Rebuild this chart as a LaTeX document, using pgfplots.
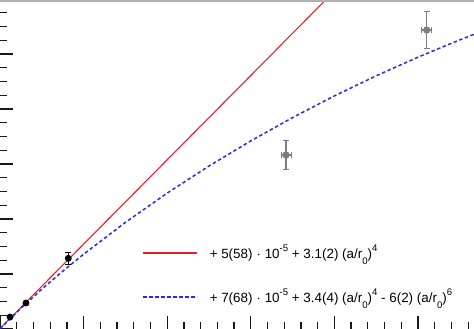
\documentclass[border=0pt]{standalone}
\usepackage{pgfplots}
\pgfplotsset{compat=1.18}
\usepackage{fontspec}
\setmainfont{Liberation Sans}
\definecolor{rootred}{RGB}{235,30,40}
\definecolor{rootblue}{RGB}{40,40,230}
\definecolor{ptgray}{RGB}{125,125,125}
\newcommand{\rsub}[1]{\raisebox{-0.85ex}{\fontsize{4.8}{5}\selectfont #1}}
\newcommand{\rsup}[1]{\raisebox{1.05ex}{\fontsize{4.8}{5}\selectfont #1}}
\begin{document}
\begin{tikzpicture}
\begin{axis}[
  scale only axis,
  width=237pt, height=164.5pt,
  xmin=0, xmax=0.0567,
  ymin=0, ymax=0.11964,
  xtick distance=0.01, ytick distance=0.02,
  minor x tick num=4, minor y tick num=3,
  xticklabels={}, yticklabels={},
  xtick pos=left, ytick pos=left,
  tick align=inside,
  major tick length=6.5pt, minor tick length=3.3pt,
  tick style={black!90, line width=0.65pt},
  axis line style={draw=none},
  scaled ticks=false,
  clip=true,
  legend cell align=left,
  legend style={draw=none, fill=none, at={(rel axis cs:0.3,0.258)}, anchor=north west,
    inner sep=0pt, row sep=13.5pt,
    nodes={inner sep=0pt, font=\fontsize{6.7}{8}\selectfont}},
]
\addlegendimage{legend image code/.code={\draw[rootred, line width=0.6pt] (0pt,0pt) -- (27pt,0pt); \path (33pt,0pt);}}
\addlegendentry{+ 5(58) $\cdot$ 10\rsup{-5} + 3.1(2) (a/r\rsub{0})\rsup{4}}
\addlegendimage{legend image code/.code={\draw[rootblue, line width=0.75pt, dash pattern=on 1.7pt off 1.3pt] (0pt,0pt) -- (27pt,0pt); \path (33pt,0pt);}}
\addlegendentry{+ 7(68) $\cdot$ 10\rsup{-5} + 3.4(4) (a/r\rsub{0})\rsup{4} - 6(2) (a/r\rsub{0})\rsup{6}}
% red linear fit
\addplot[rootred, line width=0.55pt, forget plot] coordinates {(0,0.0002) (0.0390,0.1198) (0.0420,0.1290)};
% blue fit
\addplot[rootblue, line width=0.75pt, dash pattern=on 1.7pt off 1.3pt, forget plot] coordinates {
(0,0.00007) (0.0025,0.00755) (0.005,0.01448) (0.0075,0.02100) (0.01,0.02720)
(0.015,0.03877) (0.02,0.04942) (0.025,0.05927) (0.03,0.06840) (0.035,0.07688)
(0.04,0.08476) (0.045,0.09207) (0.05,0.09886) (0.055,0.10513) (0.0567,0.10716)};
% black points
\addplot[only marks, mark=*, mark size=1.5pt, black, forget plot,
  error bars/.cd, y dir=both, y explicit, error bar style={line width=0.6pt}, error mark options={rotate=90, mark size=1.5pt}]
  coordinates {(0.0012,0.00436) +- (0,0) (0.00311,0.00945) +- (0,0) (0.00817,0.0257) +- (0,0.0022)};
% gray points
\addplot[only marks, mark=*, mark size=1.6pt, ptgray, forget plot,
  error bars/.cd, y dir=both, y explicit, x dir=both, x explicit,
  error bar style={line width=0.75pt, ptgray}, error mark options={rotate=90, mark size=1.5pt, ptgray}]
  coordinates {(0.03421,0.06327) +- (0.0006,0.00527) (0.05104,0.1087) +- (0.0006,0.00673)};
\draw[black!30, line width=1.2pt] ([yshift=-0.6pt]rel axis cs:0,1) -- ([yshift=-0.6pt]rel axis cs:1,1);
\end{axis}
\pgfresetboundingbox
\path[use as bounding box] (current axis.south west) rectangle (current axis.north east);
\end{tikzpicture}
\end{document}
